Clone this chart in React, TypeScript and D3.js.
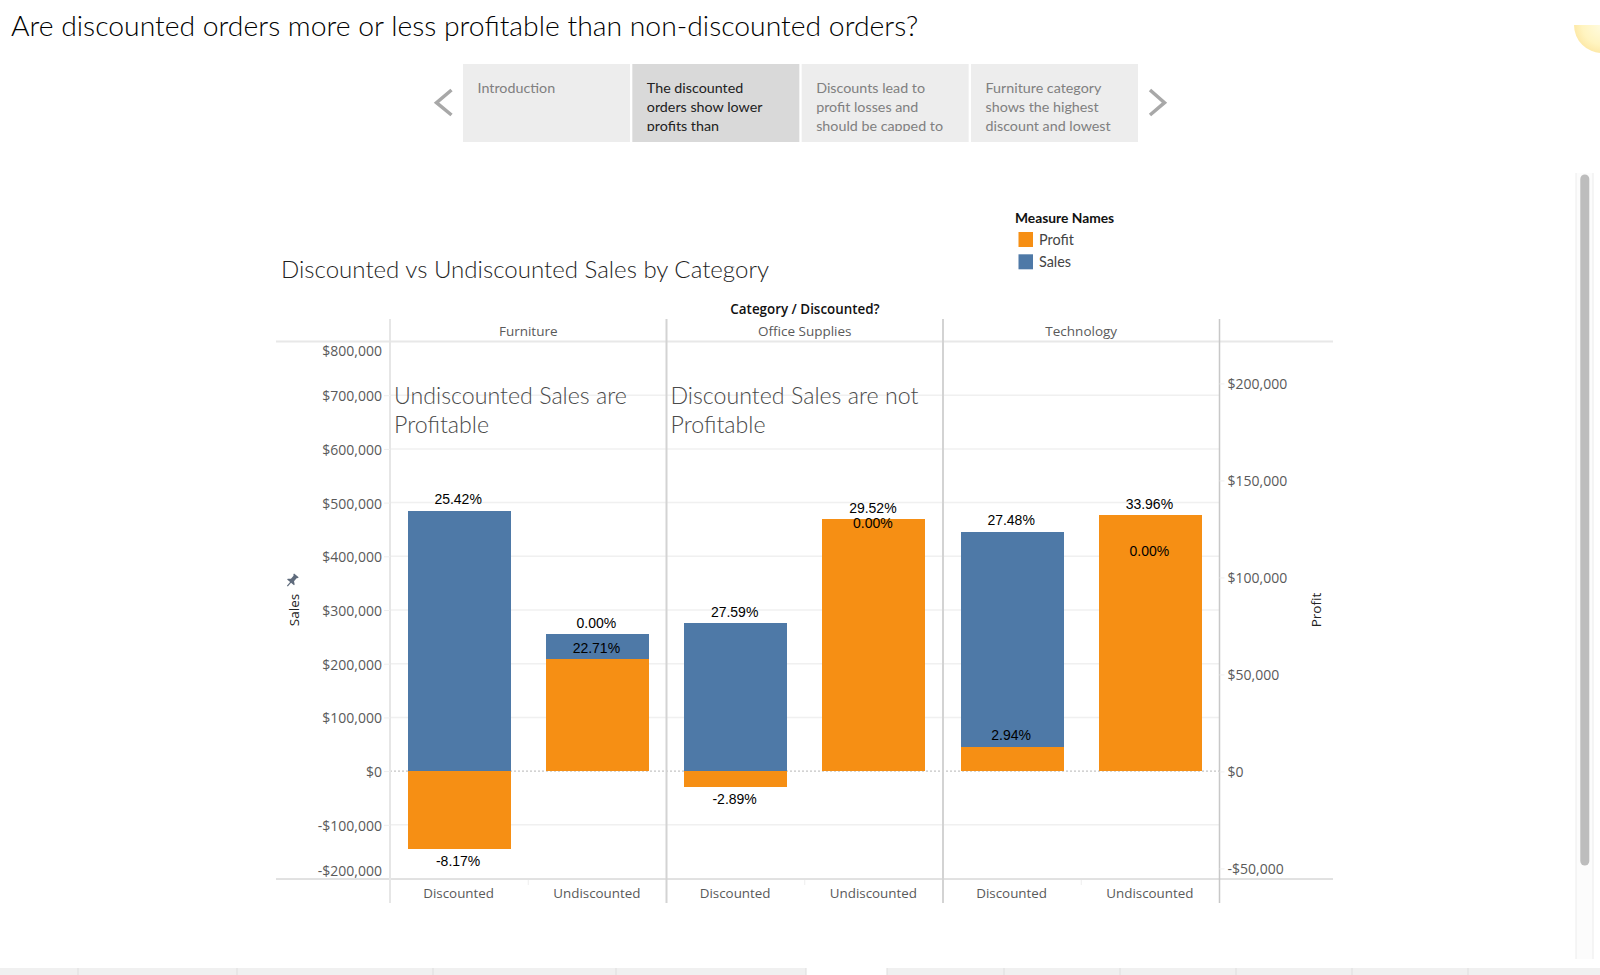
import { useEffect, useRef } from 'react'
import * as d3 from 'd3'

const categories = ['Furniture', 'Office Supplies', 'Technology']
const discountGroups = ['Discounted', 'Undiscounted']

// one entry per bar, in reading order
const barCategories = ['Furniture', 'Furniture', 'Office Supplies', 'Office Supplies', 'Technology', 'Technology']
const barGroups = ['Discounted', 'Undiscounted', 'Discounted', 'Undiscounted', 'Discounted', 'Undiscounted']
const salesValues = [484000, 254500, 275000, 441000, 445000, 389000]
const profitValues = [-40000, 57700, -8100, 130000, 12500, 132000]
const discountLabels = ['25.42%', '0.00%', '27.59%', '0.00%', '27.48%', '0.00%']
const ratioLabels = ['-8.17%', '22.71%', '-2.89%', '29.52%', '2.94%', '33.96%']

const salesTicks = [800000, 700000, 600000, 500000, 400000, 300000, 200000, 100000, 0, -100000, -200000]
const profitTicks = [200000, 150000, 100000, 50000, 0, -50000]

const storyPoints = [
  ['Introduction'],
  ['The discounted', 'orders show lower', 'profits than'],
  ['Discounts lead to', 'profit losses and', 'should be capped to'],
  ['Furniture category', 'shows the highest', 'discount and lowest'],
]
const bottomTicks = [78, 237, 433, 616, 806, 887, 1004, 1120, 1236, 1352, 1468]

const SALES_COLOR = '#4e79a7'
const PROFIT_COLOR = '#f68f14'
const FONT = 'Lato, "Open Sans", sans-serif'
const AXIS_FONT = '"Open Sans", sans-serif'
const LABEL_FONT = '"Liberation Sans", Arial, sans-serif'

function money(v: number) {
  return (v < 0 ? '-$' : '$') + d3.format(',')(Math.abs(v))
}

export default function App() {
  const svgRef = useRef<SVGSVGElement>(null)

  useEffect(() => {
    if (!svgRef.current) return
    const svg = d3.select(svgRef.current)
    svg.selectAll('*').remove()

    const top = 341.5
    const bottom = 879
    const left = 390
    const right = 1219.5

    const ySales = d3.scaleLinear().domain([800000, -200000]).range([341.5, 878.5])
    const yProfit = d3.scaleLinear().domain([200000, -50000]).range([383.4, 868.4])
    const xCat = d3.scaleBand().domain(categories).range([left, right])
    const xGroup = d3.scaleBand().domain(discountGroups).range([0, xCat.bandwidth()])
      .paddingInner(0.255).paddingOuter(0.1275)

    const text = (x: number, y: number, s: string, size: number, fill: string, anchor = 'start', family = FONT, weight = 400) =>
      svg.append('text')
        .attr('x', x).attr('y', y)
        .attr('font-size', size)
        .attr('font-family', family)
        .attr('font-weight', weight)
        .attr('text-anchor', anchor)
        .attr('fill', fill)
        .text(s)

    // Title and glow in the corner
    const defs = svg.append('defs')
    const glow = defs.append('radialGradient').attr('id', 'glow')
    glow.append('stop').attr('offset', '0%').attr('stop-color', '#fffbe0')
    glow.append('stop').attr('offset', '70%').attr('stop-color', '#fff4c0')
    glow.append('stop').attr('offset', '100%').attr('stop-color', '#fde9a8')
    defs.append('clipPath').attr('id', 'glow-clip')
      .append('rect').attr('x', 1560).attr('y', 25).attr('width', 40).attr('height', 40)
    svg.append('circle')
      .attr('cx', 1602).attr('cy', 25).attr('r', 28)
      .attr('fill', 'url(#glow)')
      .attr('clip-path', 'url(#glow-clip)')

    text(11, 36, 'Are discounted orders more or less profitable than non-discounted orders?', 28.35, '#000000', 'start', FONT, 300)

    // Story navigator
    const storyX = d3.scaleBand<number>().domain(d3.range(storyPoints.length)).range([463, 1138]).paddingInner(0.0138)
    storyPoints.forEach((lines, i) => {
      const x = storyX(i) as number
      const active = i === 1
      defs.append('clipPath').attr('id', `story-${i}`)
        .append('rect').attr('x', x).attr('y', 64).attr('width', storyX.bandwidth()).attr('height', 67)
      svg.append('rect')
        .attr('x', x).attr('y', 64)
        .attr('width', storyX.bandwidth()).attr('height', 78)
        .attr('fill', active ? '#d9d9d9' : '#ededed')
      lines.forEach((line, j) => {
        text(x + 14.5, 93 + j * 19, line, 14.3, active ? '#222222' : '#808080')
          .attr('clip-path', `url(#story-${i})`)
      })
    })
    const arrow = d3.line()
    svg.append('path')
      .attr('d', arrow([[451.5, 90], [436.5, 102.7], [451.5, 115]]))
      .attr('fill', 'none').attr('stroke', '#a8a8a8').attr('stroke-width', 3.5)
    svg.append('path')
      .attr('d', arrow([[1150, 90], [1164.5, 102.7], [1150, 115]]))
      .attr('fill', 'none').attr('stroke', '#a8a8a8').attr('stroke-width', 3.5)

    // Sheet title and legend
    text(281, 278, 'Discounted vs Undiscounted Sales by Category', 24.05, '#1f1f1f', 'start', FONT, 300)
    text(1015, 223, 'Measure Names', 13.8, '#111111', 'start', FONT, 700)
    ;[['Profit', PROFIT_COLOR], ['Sales', SALES_COLOR]].forEach(([name, color], i) => {
      svg.append('rect')
        .attr('x', 1018.5).attr('y', 232 + i * 22.3)
        .attr('width', 14.5).attr('height', 15)
        .attr('fill', color)
      text(1039, 245 + i * 22.3, name, 14.4, '#444444')
    })
    text(805, 314, 'Category / Discounted?', 13.4, '#111111', 'middle', AXIS_FONT, 600)

    // Grid lines
    salesTicks.slice(1, -1).forEach(t => {
      if (t === 0) return
      svg.append('line')
        .attr('x1', left).attr('x2', right)
        .attr('y1', ySales(t)).attr('y2', ySales(t))
        .attr('stroke', '#f0f0f0').attr('stroke-width', 1.5)
    })
    svg.append('line')
      .attr('x1', left).attr('x2', right)
      .attr('y1', ySales(0)).attr('y2', ySales(0))
      .attr('stroke', '#b5b5b5').attr('stroke-dasharray', '2,2')

    // Header rule, footer rule, pane dividers
    svg.append('line').attr('x1', 276).attr('x2', 1333).attr('y1', top).attr('y2', top)
      .attr('stroke', '#e8e8e8').attr('stroke-width', 2)
    svg.append('line').attr('x1', 276).attr('x2', 1333).attr('y1', bottom).attr('y2', bottom)
      .attr('stroke', '#c4c4c4').attr('stroke-width', 1)
    categories.forEach(c => {
      const x = xCat(c) as number
      svg.append('line').attr('x1', x).attr('x2', x).attr('y1', 319).attr('y2', 903)
        .attr('stroke', c === 'Furniture' ? '#e6e6e6' : '#d3d3d3').attr('stroke-width', 2)
      text(x + xCat.bandwidth() / 2, 336, c, 13.5, '#5a5a5a', 'middle', AXIS_FONT)
      // short tick between the two groups of a pane
      svg.append('line')
        .attr('x1', x + xCat.bandwidth() / 2).attr('x2', x + xCat.bandwidth() / 2)
        .attr('y1', 880).attr('y2', 885)
        .attr('stroke', '#eeeeee')
      discountGroups.forEach(g => {
        text(x + (xGroup(g) as number) + xGroup.bandwidth() / 2 - 0.5, 898, g, 13.4, '#5a5a5a', 'middle', AXIS_FONT)
      })
    })
    svg.append('line').attr('x1', right).attr('x2', right).attr('y1', 319).attr('y2', 903)
      .attr('stroke', '#c8c8c8').attr('stroke-width', 1.5)

    // Bars: sales first, profit (right axis) drawn over them
    const barX = (i: number) => (xCat(barCategories[i]) as number) + (xGroup(barGroups[i]) as number)
    const idx = d3.range(barCategories.length)
    svg.append('g').attr('shape-rendering', 'crispEdges').selectAll('rect').data(idx).join('rect')
      .attr('x', barX)
      .attr('width', xGroup.bandwidth())
      .attr('y', i => ySales(salesValues[i]))
      .attr('height', i => ySales(0) - ySales(salesValues[i]))
      .attr('fill', SALES_COLOR)
    svg.append('g').attr('shape-rendering', 'crispEdges').selectAll('rect').data(idx).join('rect')
      .attr('x', barX)
      .attr('width', xGroup.bandwidth())
      .attr('y', i => Math.min(yProfit(profitValues[i]), yProfit(0)))
      .attr('height', i => Math.abs(yProfit(profitValues[i]) - yProfit(0)))
      .attr('fill', PROFIT_COLOR)

    // Bar labels
    idx.forEach(i => {
      const cx = barX(i) + xGroup.bandwidth() / 2 - 1
      text(cx, ySales(salesValues[i]) - 6.7, discountLabels[i], 14, '#000000', 'middle', LABEL_FONT)
      const py = yProfit(profitValues[i])
      text(cx, profitValues[i] < 0 ? py + 17 : py - 6.7, ratioLabels[i], 14, '#000000', 'middle', LABEL_FONT)
    })

    // Annotations
    const annotations = [
      { category: 'Furniture', lines: ['Undiscounted Sales are', 'Profitable'] },
      { category: 'Office Supplies', lines: ['Discounted Sales are not', 'Profitable'] },
    ]
    annotations.forEach(a => {
      const x = (xCat(a.category) as number) + 4
      a.lines.forEach((l, j) => text(x, 404 + j * 29, l, 23.2, '#4a4a4a', 'start', FONT, 300))
    })

    // Axes
    const axisLeft = d3.axisLeft(ySales).tickValues(salesTicks).tickSize(6).tickPadding(2).tickFormat(d => money(d as number))
    const gl = svg.append('g').attr('transform', `translate(${left},0)`).call(axisLeft)
    const axisRight = d3.axisRight(yProfit).tickValues(profitTicks).tickSize(5).tickPadding(3).tickFormat(d => money(d as number))
    const gr = svg.append('g').attr('transform', `translate(${right},0)`).call(axisRight)
    ;[gl, gr].forEach(g => {
      g.select('.domain').remove()
      g.selectAll('.tick line').attr('stroke', '#eeeeee')
      g.selectAll('text')
        .attr('font-size', 14)
        .attr('font-family', AXIS_FONT)
        .attr('fill', '#5a5a5a')
    })
    // Tableau nudges the end labels inside the pane
    gl.selectAll<SVGGElement, number>('.tick text')
      .attr('dy', d => (d === 800000 ? 14 : d === -200000 ? -3 : 5.5))
    gl.selectAll<SVGGElement, number>('.tick line')
      .attr('opacity', d => (d === 800000 || d === -200000 ? 0 : 1))
    gr.selectAll<SVGGElement, number>('.tick text').attr('dy', 5.5)

    // Axis titles
    text(0, 0, 'Sales', 13.5, '#222222', 'middle', AXIS_FONT)
      .attr('transform', 'translate(299,610) rotate(-90)')
    text(0, 0, 'Profit', 13.5, '#222222', 'middle', AXIS_FONT)
      .attr('transform', 'translate(1320.5,610) rotate(-90)')
    // pin icon
    svg.append('g').attr('transform', 'translate(292.5,580) rotate(40)')
      .append('path')
      .attr('d', 'M-3,-6 H3 V-5 L2,-4 V0 L4.5,2 V3 H0.6 V8 H-0.6 V3 H-4.5 V2 L-2,0 V-4 L-3,-5 Z')
      .attr('fill', '#5f6b7c')

    // Scrollbar
    svg.append('rect').attr('x', 1576).attr('y', 173).attr('width', 17).attr('height', 786).attr('fill', '#fcfcfc')
    ;[1576, 1593].forEach(x => {
      svg.append('line').attr('x1', x).attr('x2', x).attr('y1', 173).attr('y2', 959).attr('stroke', '#ececec')
    })
    svg.append('rect').attr('x', 1580.3).attr('y', 174.5).attr('width', 9).attr('height', 691).attr('rx', 4.5).attr('fill', '#bdbdbd')

    // Bottom tab strip
    svg.append('rect').attr('x', 0).attr('y', 968).attr('width', 1600).attr('height', 7).attr('fill', '#f0f0f0')
    svg.append('rect').attr('x', 806).attr('y', 968).attr('width', 81).attr('height', 7).attr('fill', '#ffffff')
    bottomTicks.forEach(x => {
      svg.append('line').attr('x1', x).attr('x2', x).attr('y1', 968).attr('y2', 975)
        .attr('stroke', '#dedede').attr('stroke-width', 1)
    })
  }, [])

  return (
    <svg
      ref={svgRef}
      width={1600}
      height={975}
      style={{ position: 'fixed', left: 0, top: 0, background: '#ffffff' }}
    />
  )
}
